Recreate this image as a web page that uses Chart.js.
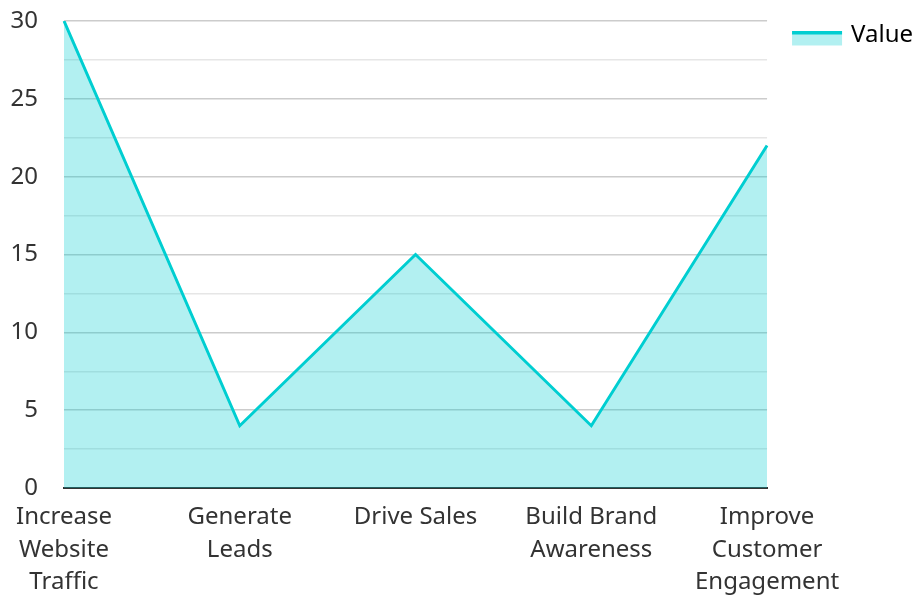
<!DOCTYPE html>
<html>
<head>
<meta charset="utf-8">
<script src="https://cdn.jsdelivr.net/npm/chart.js@4/dist/chart.umd.min.js"></script>
<style>
  html, body { margin:0; padding:0; background:#fff; }
  #wrap { width:916px; height:595px; position:relative; }
</style>
</head>
<body>
<div id="wrap"><canvas id="chart"></canvas></div>
<script>
// chart data
const categories = [
  ['Increase', 'Website', 'Traffic'],
  ['Generate', 'Leads'],
  ['Drive Sales'],
  ['Build Brand', 'Awareness'],
  ['Improve', 'Customer', 'Engagement']
];
const values = [30, 4, 15, 4, 22];
const seriesName = 'Value';
const yTicks = { min: 0, max: 30, step: 2.5, labelEvery: 5 };

const LINE = '#00ced1';
const FILL = 'rgba(0,206,209,0.3)';
const FONT = '"Noto Sans", sans-serif';
const FS = 24;

// nudge legend into place and draw its swatch: light fill with a thick top line
const legendLine = {
  id: 'legendLine',
  beforeDraw(chart) {
    const lg = chart.legend;
    if (!lg || lg._nudged) return;
    lg.left += 15; lg.right += 15;
    lg.top -= 8; lg.bottom -= 8;
    lg._nudged = true;
  },
  afterDraw(chart) {
    const lg = chart.legend;
    if (!lg) return;
    const o = lg.options.labels;
    const x = lg.left + o.padding;
    const top = lg.top + o.padding + 8;
    const c = chart.ctx;
    c.save();
    c.fillStyle = FILL;
    c.fillRect(x, top, 50, 14.5);
    c.fillStyle = LINE;
    c.fillRect(x, top, 50, 3.5);
    c.restore();
  }
};

new Chart(document.getElementById('chart'), {
  type: 'line',
  data: {
    labels: categories,
    datasets: [{
      label: seriesName,
      data: values,
      borderColor: LINE,
      backgroundColor: FILL,
      fill: 'origin',
      borderWidth: 3,
      pointRadius: 0,
      tension: 0
    }]
  },
  options: {
    responsive: true,
    maintainAspectRatio: false,
    animation: false,
    layout: { padding: { left: 10, top: 21, right: 8, bottom: 0 } },
    plugins: {
      legend: {
        position: 'right',
        align: 'start',
        labels: {
          font: { family: FONT, size: FS },
          color: '#333',
          boxWidth: 47,
          boxHeight: 14,
          padding: 10,
          generateLabels() {
            return [{ text: seriesName, fillStyle: 'rgba(0,0,0,0)', strokeStyle: 'rgba(0,0,0,0)', lineWidth: 0, datasetIndex: 0 }];
          }
        }
      },
      tooltip: { enabled: false }
    },
    scales: {
      x: {
        offset: false,
        grid: { display: false, drawTicks: false },
        border: { display: true, color: '#333', width: 2 },
        ticks: {
          font: { family: FONT, size: FS, lineHeight: 1.36 },
          color: '#333',
          maxRotation: 0,
          autoSkip: false,
          padding: 13
        },
        afterFit(s) { s.paddingLeft = 0; s.paddingRight = 0; s.height = 107; }
      },
      y: {
        min: yTicks.min,
        max: yTicks.max,
        grid: {
          drawTicks: false,
          color: ctx => (ctx.tick && ctx.tick.value % yTicks.labelEvery === 0) ? '#cccccc' : '#e6e6e6',
          lineWidth: 1.5
        },
        border: { display: false },
        ticks: {
          stepSize: yTicks.step,
          font: { family: FONT, size: FS },
          color: '#333',
          padding: 26,
          callback: v => v % yTicks.labelEvery === 0 ? v : ''
        },
        afterFit(s) { s.width = 54; s.paddingTop = 0; s.paddingBottom = 0; }
      }
    }
  },
  plugins: [legendLine]
});
</script>
</body>
</html>
